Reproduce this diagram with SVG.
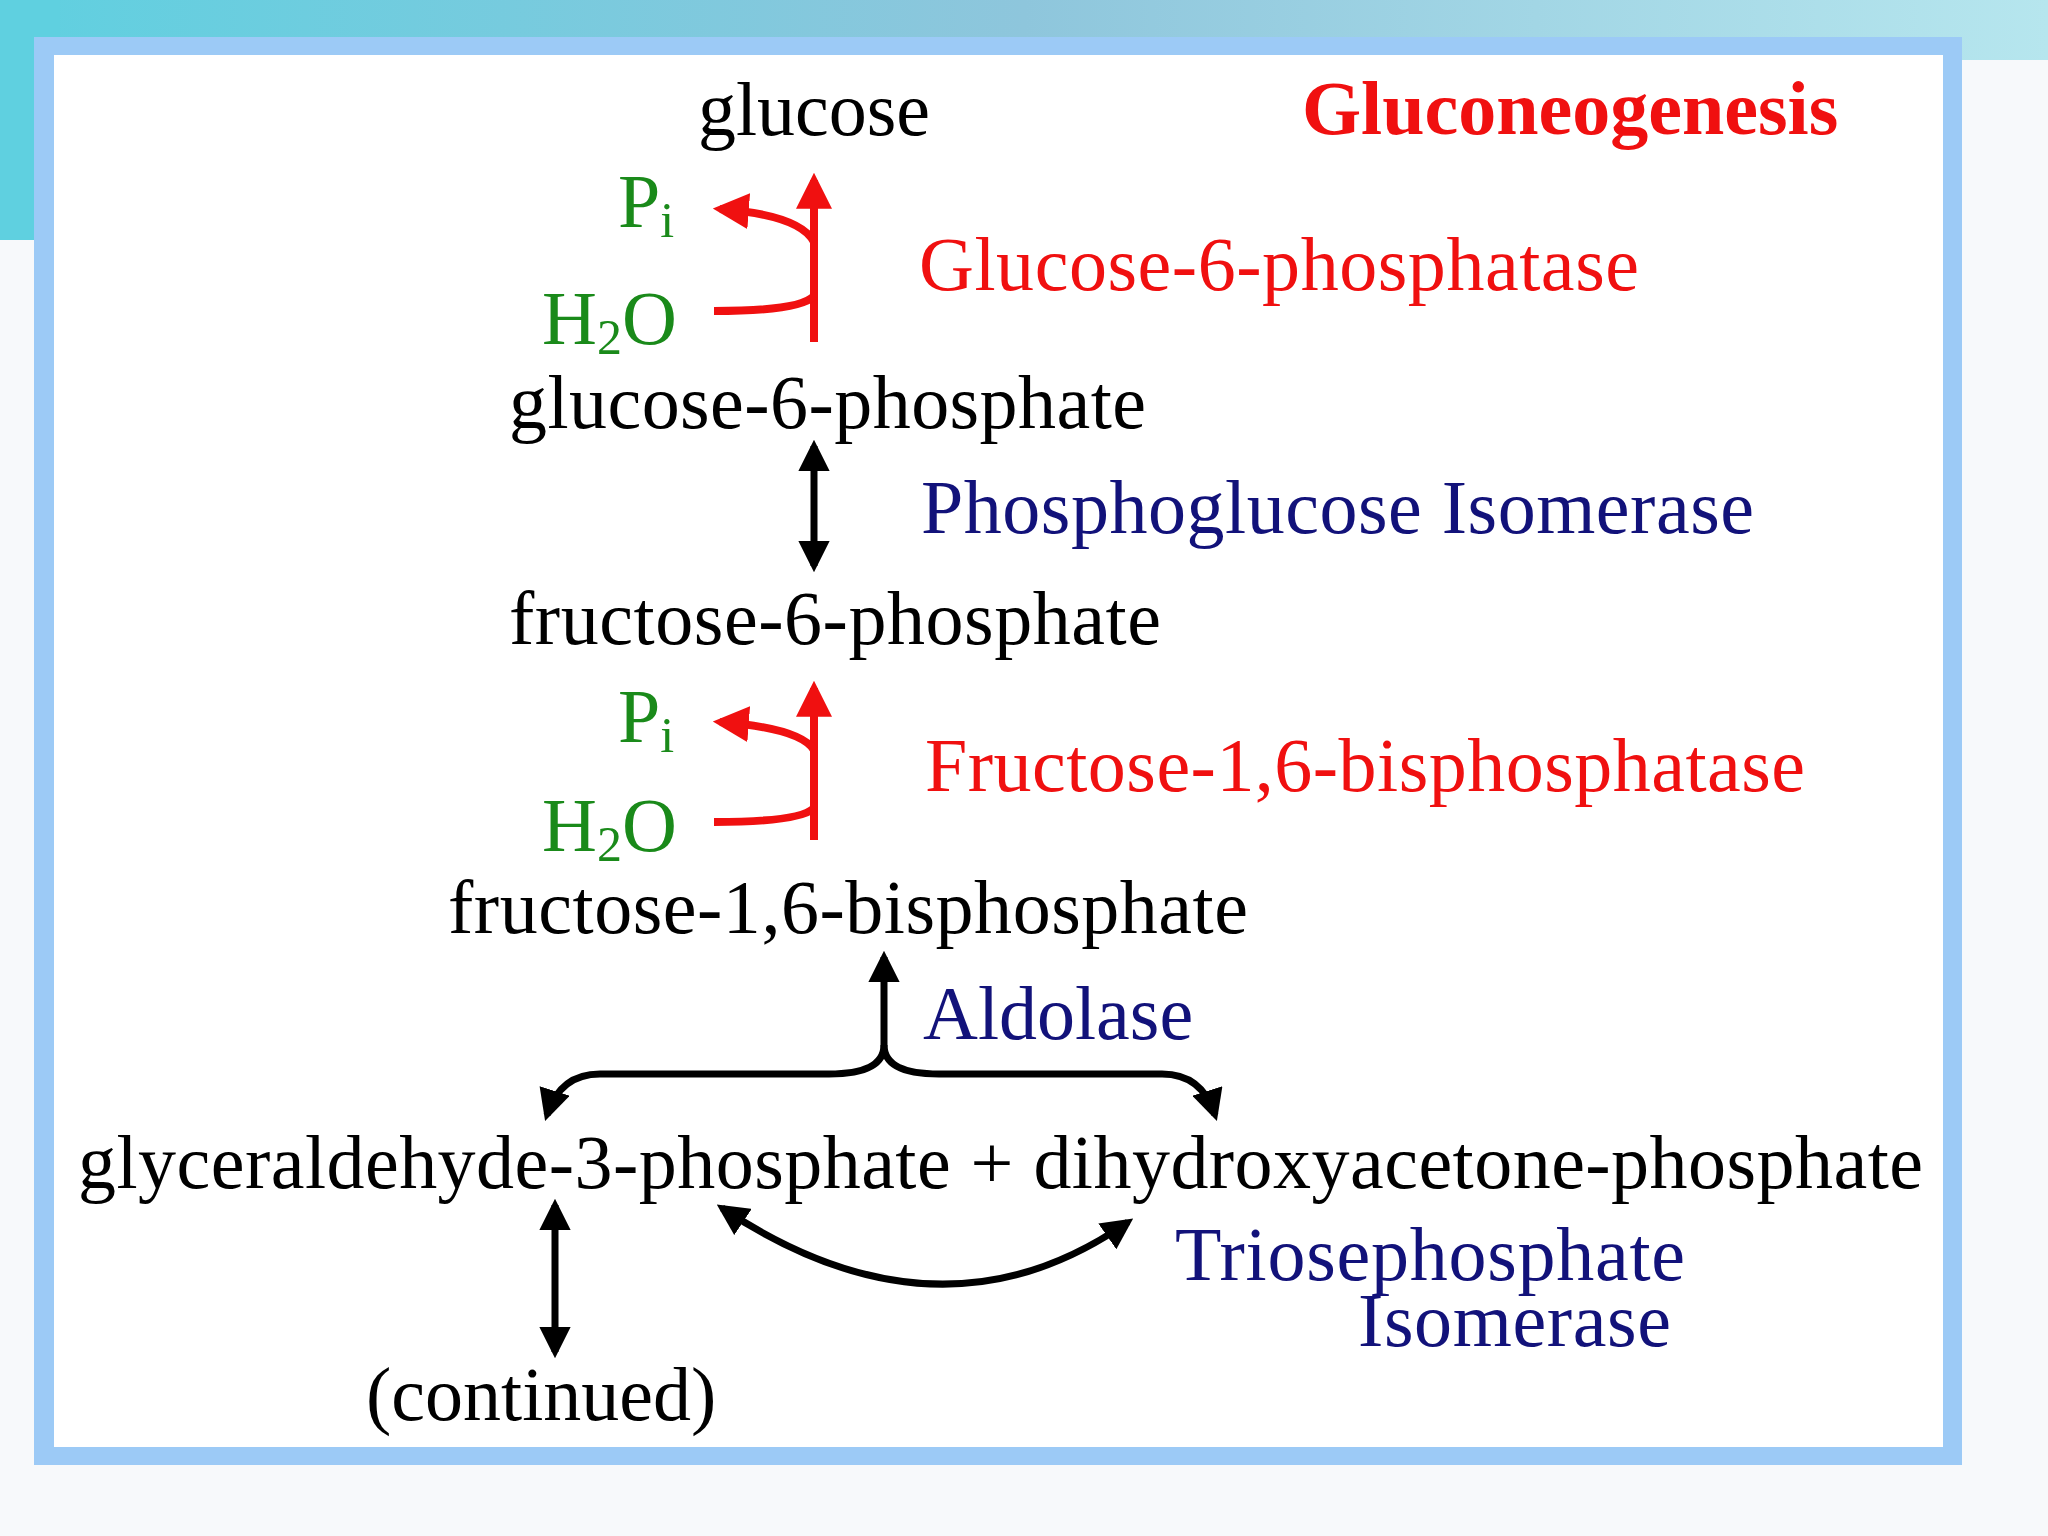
<svg xmlns="http://www.w3.org/2000/svg" width="2048" height="1536" viewBox="0 0 2048 1536">
<style>
text{font-family:"Liberation Serif","Times New Roman",serif;font-size:76px}
.k{fill:#000}.r{fill:#f01010}.g{fill:#1a8a1a}.b{fill:#12127a}
.ra{fill:none;stroke:#f01010;stroke-width:8}
.ka{fill:none;stroke:#000;stroke-width:7}
</style>
<defs>
<marker id="ar" viewBox="0 0 10 10" refX="8" refY="5" markerWidth="4.5" markerHeight="4.5" orient="auto-start-reverse" markerUnits="strokeWidth"><path d="M0,0L10,5L0,10z" fill="#f01010"/></marker>
<marker id="ak" viewBox="0 0 10 10" refX="8" refY="5" markerWidth="4.5" markerHeight="4.5" orient="auto-start-reverse" markerUnits="strokeWidth"><path d="M0,0L10,5L0,10z" fill="#000"/></marker>
<linearGradient id="bg" x1="0" y1="0" x2="1" y2="0"><stop offset="0" stop-color="#5fd0e0"/><stop offset="0.5" stop-color="#8ec6dc"/><stop offset="1" stop-color="#b6e6ee"/></linearGradient>
</defs>
<rect width="2048" height="1536" fill="#f7f9fb"/>
<rect width="2048" height="60" fill="url(#bg)"/>
<rect x="0" y="0" width="60" height="240" fill="#5fd0e0"/>
<rect x="34" y="37" width="1928" height="1428" fill="#9ccaf6"/>
<rect x="54" y="55" width="1889" height="1392" fill="#fff"/>
<g id="glucose"><text class="k" x="814" y="135" text-anchor="middle">glucose</text></g>
<g id="title"><text class="r" x="1302" y="134" font-weight="bold" font-size="68">Gluconeogenesis</text></g>
<g id="pi1"><text class="g" x="618" y="227">P<tspan font-size="50" dy="10">i</tspan></text></g>
<g id="h2o1"><text class="g" x="542" y="344">H<tspan font-size="50" dy="10">2</tspan><tspan dy="-10">O</tspan></text></g>
<g id="g6pase"><text class="r" x="919" y="290" textLength="720">Glucose-6-phosphatase</text></g>
<g id="g6p"><text class="k" x="509" y="428" textLength="637">glucose-6-phosphate</text></g>
<g id="pgi"><text class="b" x="921" y="533" textLength="833">Phosphoglucose Isomerase</text></g>
<g id="f6p"><text class="k" x="509" y="644" textLength="652">fructose-6-phosphate</text></g>
<g id="pi2"><text class="g" x="618" y="742">P<tspan font-size="50" dy="10">i</tspan></text></g>
<g id="h2o2"><text class="g" x="542" y="851">H<tspan font-size="50" dy="10">2</tspan><tspan dy="-10">O</tspan></text></g>
<g id="fbpase"><text class="r" x="925" y="791" textLength="880">Fructose-1,6-bisphosphatase</text></g>
<g id="fbp"><text class="k" x="448" y="933" textLength="800">fructose-1,6-bisphosphate</text></g>
<g id="aldolase"><text class="b" x="923" y="1039">Aldolase</text></g>
<g id="trioses"><text class="k" x="78" y="1188" textLength="1845">glyceraldehyde-3-phosphate + dihydroxyacetone-phosphate</text></g>
<g id="tpi"><text class="b" x="1175" y="1280" textLength="510">Triosephosphate</text><text class="b" x="1358" y="1346" textLength="313">Isomerase</text></g>
<g id="continued"><text class="k" x="366" y="1420">(continued)</text></g>
<g id="connectors">
<path class="ra" d="M814,342V180" marker-end="url(#ar)"/>
<path class="ra" d="M714,311Q800,311 814,296"/>
<path class="ra" d="M814,242Q800,215 720,209" marker-end="url(#ar)"/>
<path class="ra" d="M814,840V688" marker-end="url(#ar)"/>
<path class="ra" d="M714,822Q800,822 814,808"/>
<path class="ra" d="M814,750Q800,728 720,722" marker-end="url(#ar)"/>
<path class="ka" d="M814,446V566" marker-start="url(#ak)" marker-end="url(#ak)"/>
<path class="ka" d="M884,1045V957" marker-end="url(#ak)"/>
<path class="ka" d="M884,1045Q884,1074 829,1074H600Q560,1074 547,1115" marker-end="url(#ak)"/>
<path class="ka" d="M884,1045Q884,1074 939,1074H1162Q1202,1074 1215,1115" marker-end="url(#ak)"/>
<path class="ka" d="M555,1205V1352" marker-start="url(#ak)" marker-end="url(#ak)"/>
<path class="ka" d="M722,1208Q940,1353 1128,1222" marker-start="url(#ak)" marker-end="url(#ak)"/>
</g>
</svg>
